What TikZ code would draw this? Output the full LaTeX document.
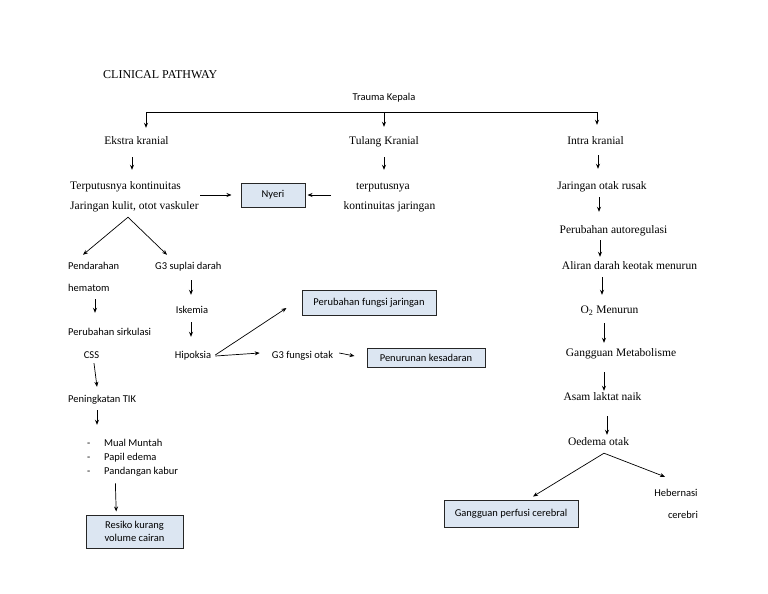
\documentclass[tikz,border=0pt]{standalone}
\usepackage{fontspec}
\setmainfont{Liberation Serif}
\newfontfamily\srf{Liberation Serif}
\newfontfamily\snf{Carlito}
\usetikzlibrary{arrows.meta,shadows}
\definecolor{boxblue}{HTML}{DCE6F2}
\tikzset{
  sr/.style={font=\srf\fontsize{11.5}{13}\selectfont, inner sep=0pt, text height=8pt, text depth=2.5pt},
  sn/.style={font=\snf\fontsize{10.5}{13}\selectfont, inner sep=0pt, text height=8pt, text depth=2.5pt},
  bx/.style={draw=black!85, line width=1pt, fill=boxblue, font=\snf\fontsize{10.5}{13}\selectfont, inner sep=0pt, align=center,
    drop shadow={shadow xshift=1pt, shadow yshift=-1pt, fill=black!35, opacity=0.6}},
  arr/.style={-{Stealth[length=5pt,width=4pt]}, line width=0.7pt},
  ln/.style={line width=0.7pt},
}
\begin{document}
\begin{tikzpicture}[x=1pt,y=-1pt]
\useasboundingbox (0,0) rectangle (768,594);
\fill[white] (0,0) rectangle (768,594);
% title and trunk
\node[sr, anchor=west, font=\srf\fontsize{12}{13}\selectfont] (title) at (103,76) {CLINICAL PATHWAY};
\node[sn] (trauma) at (384,98) {Trauma Kepala};
\coordinate (trL) at (146,112);
\coordinate (trM) at (384,112);
\coordinate (trR) at (597,112);
% top level
\node[sr] (ekstra) at (136.5,142) {Ekstra kranial};
\node[sr] (tulang) at (384,142) {Tulang Kranial};
\node[sr] (intra) at (595.5,142) {Intra kranial};
% second level
\node[sr, anchor=west] (tp1) at (70,187) {Terputusnya kontinuitas};
\node[sr, anchor=west] (tp2) at (70,207) {Jaringan kulit, otot vaskuler};
\node[bx, minimum width=64pt, minimum height=24pt] (nyeri) at (273,195) {Nyeri};
\node[sr] (tr1) at (383,187) {terputusnya};
\node[sr] (tr2) at (389.5,207) {kontinuitas jaringan};
% right chain
\node[sr] (jor) at (602,187) {Jaringan otak rusak};
\node[sr] (auto) at (613.5,231) {Perubahan autoregulasi};
\node[sr] (aliran) at (629.5,267) {Aliran darah keotak menurun};
\node[sr] (o2) at (609.5,311) {O\textsubscript{2} Menurun};
\node[sr] (metab) at (621,354) {Gangguan Metabolisme};
\node[sr] (asam) at (602.5,398) {Asam laktat naik};
\node[sr] (oedema) at (598.5,443) {Oedema otak};
\node[sn] (heb) at (676,494) {Hebernasi};
\node[sn] (cer) at (683,516) {cerebri};
\node[bx, minimum width=134pt, minimum height=27pt] (perfusi) at (511,513.5) {Gangguan perfusi cerebral};
% left side
\node[sn, anchor=west] (pend) at (68,267) {Pendarahan};
\node[sn, anchor=west] (g3s) at (155,267) {G3 suplai darah};
\node[sn, anchor=west] (hematom) at (68,289) {hematom};
\node[sn] (iskemia) at (192,311) {Iskemia};
\node[sn, anchor=west] (perub) at (68,333) {Perubahan sirkulasi};
\node[sn] (css) at (91.5,356) {CSS};
\node[sn] (hipoksia) at (193,356) {Hipoksia};
\node[sn] (g3otak) at (302.5,356) {G3 fungsi otak};
\node[bx, minimum width=134pt, minimum height=25pt] (fungsi) at (369,302.5) {Perubahan fungsi jaringan};
\node[bx, minimum width=118pt, minimum height=19pt] (kesadaran) at (426,357.5) {Penurunan kesadaran};
\node[sn, anchor=west] (tik) at (68,400) {Peningkatan TIK};
\node[sn, anchor=west] (l1) at (87,444) {\makebox[17pt][l]{-}Mual Muntah};
\node[sn, anchor=west] (l2) at (87,458) {\makebox[17pt][l]{-}Papil edema};
\node[sn, anchor=west] (l3) at (87,472) {\makebox[17pt][l]{-}Pandangan kabur};
\node[bx, minimum width=97pt, minimum height=33pt] (resiko) at (134.5,531.5) {Resiko kurang\\volume cairan};
% connectors: trunk
\draw[ln] (trL) -- (trR);
\draw[arr, shorten >=8.75pt] (trL) -- (trL |- ekstra.north);
\draw[arr, shorten >=9.75pt] (trM) -- (tulang.north);
\draw[arr, shorten >=11.75pt] (trR) -- (trR |- intra.north);
% top level down
\draw[arr, shorten <=9.75pt, shorten >=11.75pt] ([xshift=-4.5pt]ekstra.south) -- ([xshift=-4.5pt]ekstra.south |- tp1.north);
\draw[arr, shorten <=9.75pt, shorten >=11.75pt] (tulang.south) -- (tulang.south |- tr1.north);
\draw[arr, shorten <=7.75pt, shorten >=12.75pt] ([xshift=2.5pt]intra.south) -- ([xshift=2.5pt]intra.south |- jor.north);
% Nyeri
\draw[arr] ([xshift=130pt]tp1.west |- nyeri.west) -- ([xshift=-9pt]nyeri.west);
\draw[arr] ([xshift=-52pt]tr1.center |- nyeri.east) -- ([xshift=2pt]nyeri.east);
% right chain
\draw[arr, shorten <=4.75pt, shorten >=13.75pt] ([xshift=-3pt]jor.south) -- ([xshift=-3pt]jor.south |- auto.north);
\draw[arr, shorten <=3.75pt, shorten >=4.75pt] ([xshift=-13.5pt]auto.south) -- ([xshift=-13.5pt]auto.south |- aliran.north);
\draw[arr, shorten <=4.75pt, shorten >=10.75pt] ([xshift=-7.5pt]o2.north |- aliran.south) -- ([xshift=-7.5pt]o2.north);
\draw[arr, shorten <=6.75pt, shorten >=5.75pt] ([xshift=-5.5pt]o2.south) -- ([xshift=-5.5pt]o2.south |- metab.north);
\draw[arr, shorten <=12.75pt, shorten >=1.75pt] ([xshift=1.5pt]asam.north |- metab.south) -- ([xshift=1.5pt]asam.north);
\draw[arr, shorten <=12.75pt, shorten >=2.75pt] ([xshift=4.5pt]asam.south) -- ([xshift=4.5pt]asam.south |- oedema.north);
\coordinate (apR) at ([xshift=5.5pt,yshift=-4.75pt]oedema.south);
\draw[arr] (apR) -- ([xshift=22pt,yshift=3pt]perfusi.north);
\draw[arr] (apR) -- ([xshift=-11pt,yshift=11.75pt]heb.north);
% left side
\coordinate (apL) at ([xshift=58pt,yshift=-4.75pt]tp2.south west);
\draw[arr] (apL) -- ([xshift=15pt,yshift=6.75pt]pend.north west);
\draw[arr] (apL) -- ([xshift=12pt,yshift=6.75pt]g3s.north west);
\draw[arr, shorten <=4.75pt, shorten >=14.75pt] ([xshift=27pt]hematom.south west) -- ([xshift=27pt]hematom.south west |- perub.north);
\draw[arr, shorten <=7.75pt, shorten >=10.75pt] ([xshift=-1pt]iskemia.north |- g3s.south) -- ([xshift=-1pt]iskemia.north);
\draw[arr, shorten <=5.75pt, shorten >=13.75pt] ([xshift=-1pt]iskemia.south) -- ([xshift=-1pt]iskemia.south |- hipoksia.north);
\draw[arr] ([xshift=2.5pt,yshift=-1.75pt]css.south) -- ([xshift=29pt,yshift=7.75pt]tik.north west);
\draw[arr, shorten <=4.75pt, shorten >=13.75pt] ([xshift=29pt]tik.south west) -- ([xshift=29pt]tik.south west |- l1.north);
\draw[arr, shorten <=5.75pt] ([xshift=29.7pt]resiko.north west |- l3.south) -- ([xshift=30.7pt,yshift=3pt]resiko.north west);
\draw[arr] ([xshift=4pt,yshift=1pt]hipoksia.east) -- ([xshift=-15pt,yshift=-5.5pt]fungsi.west);
\draw[arr] ([xshift=4pt]hipoksia.east) -- ([xshift=-12pt,yshift=3pt]g3otak.west);
\draw[arr] ([xshift=6pt,yshift=3pt]g3otak.east) -- ([xshift=-12pt,yshift=1.5pt]kesadaran.west);
\end{tikzpicture}
\end{document}
